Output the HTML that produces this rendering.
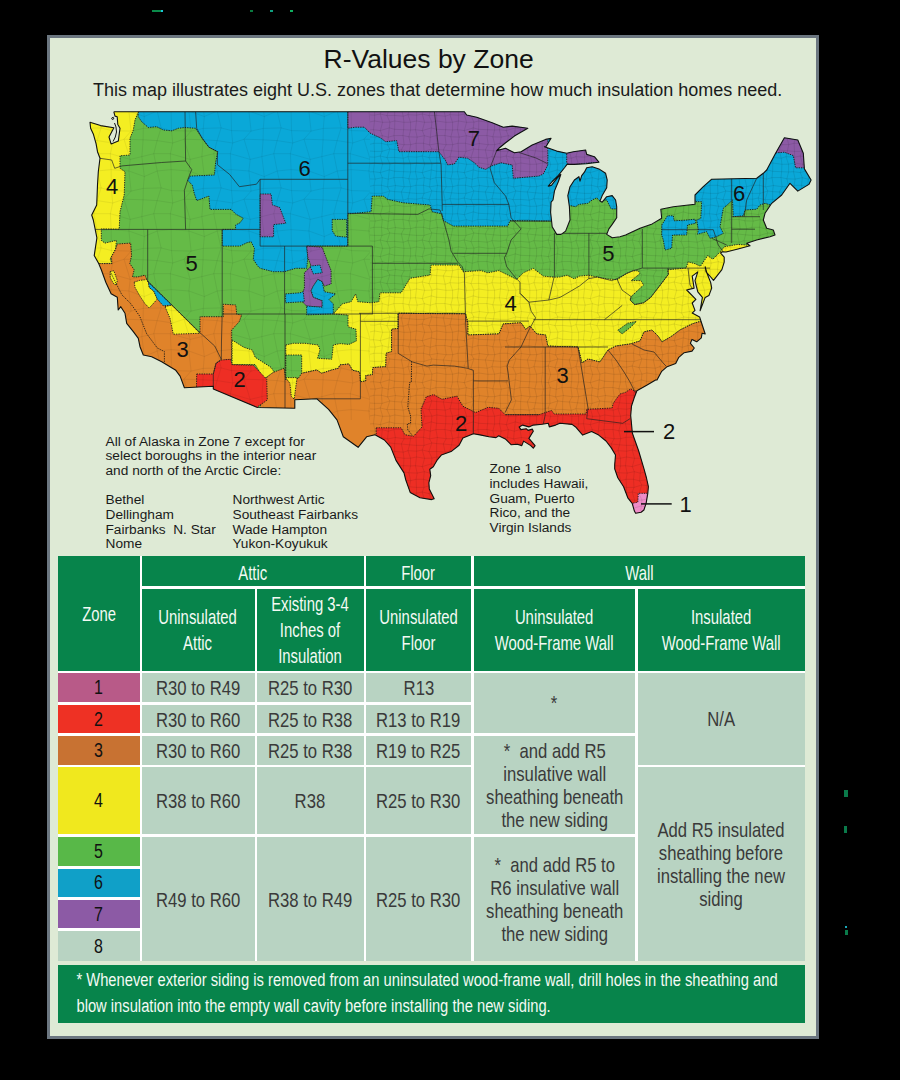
<!DOCTYPE html>
<html><head><meta charset="utf-8">
<style>
html,body{margin:0;padding:0;background:#000;width:900px;height:1080px;overflow:hidden;font-family:"Liberation Sans",sans-serif}
#panel{position:absolute;left:47px;top:35px;width:766px;height:998px;border:3.5px solid #6b7680;background:#deead5}
.a{position:absolute}
.t{position:absolute;white-space:nowrap;line-height:1}
.c{position:absolute;background:#b8d3c2;color:#3a3a3a;display:flex;align-items:center;justify-content:center;text-align:center}
.g{background:#07844b;color:#f4faf4}
.tx{display:inline-block;transform-origin:50% 50%;white-space:nowrap}
</style></head><body>
<div id="panel"></div><div id="specks"><div class="a" style="left:152px;top:10px;width:9px;height:2px;background:#0a8a4a"></div><div class="a" style="left:161px;top:10px;width:2px;height:2px;background:#19c8d8"></div><div class="a" style="left:250px;top:10px;width:3px;height:2px;background:#0a7a40"></div><div class="a" style="left:270px;top:10px;width:3px;height:2px;background:#10a080"></div><div class="a" style="left:290px;top:10px;width:3px;height:2px;background:#10b060"></div><div class="a" style="left:844px;top:790px;width:4px;height:7px;background:#0a7a4a"></div><div class="a" style="left:844px;top:826px;width:3px;height:7px;background:#0a7a4a"></div><div class="a" style="left:845px;top:926px;width:2px;height:2px;background:#19a8b8"></div><div class="a" style="left:845px;top:930px;width:3px;height:5px;background:#0a7a4a"></div></div>
<div class="t" style="left:323.5px;top:46px;font-size:26.5px;color:#111">R-Values by Zone</div>
<div class="t" style="left:93px;top:81.4px;font-size:18px;color:#1a1a1a">This map illustrates eight U.S. zones that determine how much insulation homes need.</div>
<svg class="a" style="left:0;top:0" width="900" height="1080" id="map"><defs><clipPath id="us"><polygon points="90.0,122.2 100.6,125.6 113.9,127.8 109.0,137.0 111.1,143.9 118.3,141.1 120.0,128.3 117.8,124.4 117.2,116.7 115.0,116.1 113.9,112.2 114.2,111.7 464.4,111.7 466.7,115.0 476.7,117.2 492.2,122.8 503.3,127.2 512.2,126.1 527.8,128.3 514.4,136.1 505.6,142.8 498.9,148.3 496.7,150.6 505.6,148.3 514.4,152.8 521.1,151.7 532.2,145.0 545.6,139.4 551.1,138.3 545.6,147.2 544.4,146.7 548.9,148.3 556.7,151.1 566.7,153.3 573.3,151.7 585.6,150.0 586.7,154.4 594.4,156.7 598.9,162.2 586.4,163.7 574.0,164.4 567.0,164.4 564.7,167.5 558.4,175.3 552.2,181.5 548.3,186.2 551.4,185.4 556.9,178.4 560.8,174.5 558.4,181.5 554.5,190.9 553.0,200.0 551.1,202.2 550.6,212.2 552.2,226.7 556.7,234.4 561.1,234.4 565.6,231.1 570.0,220.0 569.4,206.7 567.8,195.6 570.0,186.7 574.4,180.0 578.9,176.7 580.0,181.1 581.7,175.6 584.4,172.2 586.7,167.8 592.2,166.7 598.9,168.9 605.6,173.3 607.2,180.0 606.7,187.8 602.2,195.6 600.0,201.1 602.2,202.2 606.7,196.7 612.2,195.6 615.6,200.0 616.7,206.7 616.7,217.8 612.2,224.4 608.9,228.9 606.7,234.4 612.2,237.8 620.0,236.7 625.6,235.0 640.0,228.3 652.2,223.9 661.7,218.3 660.8,209.2 673.3,206.7 695.0,204.2 695.0,195.0 703.3,186.7 711.7,179.2 756.7,178.3 763.3,173.3 766.7,170.0 775.6,153.3 784.4,137.8 797.8,140.0 803.3,153.3 804.4,168.9 811.1,180.0 808.9,184.4 797.8,191.1 790.0,183.3 781.7,195.0 771.7,203.3 765.0,213.3 763.3,220.0 766.7,228.3 773.3,230.0 775.0,235.0 770.0,236.7 756.7,240.0 746.7,243.3 750.0,245.8 738.0,249.0 726.0,252.0 722.3,251.8 720.5,253.0 724.2,257.1 724.2,262.2 721.9,269.6 713.5,280.3 710.7,277.0 706.1,271.9 705.2,266.9 707.0,273.3 710.7,282.6 711.7,288.1 708.9,295.6 705.2,297.4 700.1,310.8 702.4,297.4 697.8,291.9 696.4,286.3 695.0,280.7 697.8,271.9 692.2,276.1 694.1,288.1 686.7,290.0 695.9,299.3 692.2,303.0 695.0,310.4 692.2,313.1 699.6,316.9 700.6,320.0 705.2,334.0 702.1,333.2 701.3,337.9 696.7,341.8 692.0,339.4 690.4,343.3 694.3,348.0 692.0,351.1 684.2,352.7 678.8,357.3 675.7,363.6 667.1,366.7 661.7,371.3 657.0,380.0 655.6,380.0 646.7,385.3 636.9,390.7 634.2,397.8 631.5,406.0 630.7,415.6 632.4,433.3 638.7,451.0 644.0,468.9 646.5,478.0 648.4,486.7 647.8,493.3 646.1,503.3 643.9,510.0 641.1,512.2 635.6,513.3 634.4,511.1 632.2,503.3 627.8,497.8 623.6,486.7 617.8,477.8 614.7,468.9 614.7,464.7 615.5,455.0 611.1,447.6 606.0,441.0 598.7,435.1 591.6,431.6 582.7,435.1 576.0,427.3 572.0,424.4 560.0,423.3 555.6,425.1 549.3,426.9 548.4,423.3 542.2,424.2 533.3,425.1 528.9,426.9 522.7,425.1 519.1,426.9 520.9,429.6 526.2,428.7 528.0,430.4 532.4,429.1 533.3,431.3 528.9,438.4 535.1,445.6 533.3,448.2 530.7,445.6 523.6,441.1 521.8,445.6 517.3,444.2 511.1,444.7 505.8,439.3 498.7,435.8 496.0,437.6 488.9,436.7 480.0,434.9 473.4,433.7 462.9,437.9 459.1,445.3 451.1,451.6 441.3,455.1 436.9,460.4 433.3,466.7 429.8,469.3 430.7,475.6 428.9,482.7 429.3,488.9 434.2,498.7 431.6,499.6 420.0,497.8 410.2,492.4 405.8,480.0 404.0,472.9 396.0,460.4 390.7,447.1 384.4,440.0 375.0,434.7 366.6,436.8 358.1,447.3 343.3,436.8 337.0,419.9 328.6,409.3 316.9,398.8 294.8,399.8 294.8,408.3 257.5,407.5 213.3,389.1 213.3,386.2 184.4,387.7 180.1,376.1 175.8,370.3 170.0,366.7 161.7,361.7 151.7,356.7 143.3,355.0 140.0,346.7 138.3,338.3 133.3,331.7 126.7,323.3 125.0,313.3 120.8,306.7 118.2,310.0 117.3,297.3 111.1,293.8 105.8,282.2 101.3,269.8 98.7,263.6 94.2,255.6 96.9,237.8 95.1,228.9 93.3,220.0 91.7,215.0 96.7,205.0 97.5,185.0 98.3,171.7 100.0,158.3 97.5,151.7 96.1,143.9 93.3,133.9 90.6,128.3"/></clipPath>
<pattern id="ctyE" width="42" height="42" patternUnits="userSpaceOnUse"><path d="M-3.5 -5.0 L-4.5 3.7 L-2.9 11.1 L-3.9 17.3 L-3.5 25.4 L-3.4 31.2 L-3.5 37.0 L-4.5 45.7 L-2.9 53.1 M4.6 -3.7 L2.3 4.6 L4.3 9.7 L3.5 17.3 L4.0 25.4 L2.2 30.0 L4.6 38.3 L2.3 46.6 L4.3 51.7 M11.9 -3.9 L11.3 1.9 L10.3 11.2 L9.6 18.9 L11.8 23.0 L9.0 31.6 L11.9 38.1 L11.3 43.9 L10.3 53.2 M16.8 -5.0 L16.6 3.3 L16.0 9.6 L17.3 17.5 L16.6 23.6 L16.6 31.4 L16.8 37.0 L16.6 45.3 L16.0 51.6 M25.9 -3.7 L25.6 3.7 L25.0 9.5 L26.1 18.7 L23.3 24.0 L25.2 32.2 L25.9 38.3 L25.6 45.7 L25.0 51.5 M32.5 -3.8 L32.6 4.0 L30.9 10.8 L32.7 18.6 L31.5 24.8 L30.0 30.7 L32.5 38.2 L32.6 46.0 L30.9 52.8 M38.5 -5.0 L37.5 3.7 L39.1 11.1 L38.1 17.3 L38.5 25.4 L38.6 31.2 L38.5 37.0 L37.5 45.7 L39.1 53.1 M46.6 -3.7 L44.3 4.6 L46.3 9.7 L45.5 17.3 L46.0 25.4 L44.2 30.0 L46.6 38.3 L44.3 46.6 L46.3 51.7 M-3.5 -5.0 L4.6 -3.7 L11.9 -3.9 L16.8 -5.0 L25.9 -3.7 L32.5 -3.8 L38.5 -5.0 L46.6 -3.7 L53.9 -3.9 M-4.5 3.7 L2.3 4.6 L11.3 1.9 L16.6 3.3 L25.6 3.7 L32.6 4.0 L37.5 3.7 L44.3 4.6 L53.3 1.9 M-2.9 11.1 L4.3 9.7 L10.3 11.2 L16.0 9.6 L25.0 9.5 L30.9 10.8 L39.1 11.1 L46.3 9.7 L52.3 11.2 M-3.9 17.3 L3.5 17.3 L9.6 18.9 L17.3 17.5 L26.1 18.7 L32.7 18.6 L38.1 17.3 L45.5 17.3 L51.6 18.9 M-3.5 25.4 L4.0 25.4 L11.8 23.0 L16.6 23.6 L23.3 24.0 L31.5 24.8 L38.5 25.4 L46.0 25.4 L53.8 23.0 M-3.4 31.2 L2.2 30.0 L9.0 31.6 L16.6 31.4 L25.2 32.2 L30.0 30.7 L38.6 31.2 L44.2 30.0 L51.0 31.6 M-3.5 37.0 L4.6 38.3 L11.9 38.1 L16.8 37.0 L25.9 38.3 L32.5 38.2 L38.5 37.0 L46.6 38.3 L53.9 38.1 M-4.5 45.7 L2.3 46.6 L11.3 43.9 L16.6 45.3 L25.6 45.7 L32.6 46.0 L37.5 45.7 L44.3 46.6 L53.3 43.9" fill="none" stroke="#000" stroke-opacity="0.16" stroke-width="0.55"/></pattern>
<pattern id="ctyW" width="60" height="60" patternUnits="userSpaceOnUse"><path d="M-8.9 -10.4 L-8.5 10.6 L-7.3 23.0 L-9.6 33.7 L-8.9 49.6 L-8.5 70.6 L-7.3 83.0 M8.9 -9.0 L11.1 11.1 L4.0 19.2 L10.2 39.4 L8.9 51.0 L11.1 71.1 L4.0 79.2 M24.3 -3.5 L23.3 8.4 L23.1 19.8 L21.9 36.6 L24.3 56.5 L23.3 68.4 L23.1 79.8 M37.2 -9.0 L41.1 7.9 L37.1 20.6 L33.8 33.7 L37.2 51.0 L41.1 67.9 L37.1 80.6 M51.1 -10.4 L51.5 10.6 L52.7 23.0 L50.4 33.7 L51.1 49.6 L51.5 70.6 L52.7 83.0 M68.9 -9.0 L71.1 11.1 L64.0 19.2 L70.2 39.4 L68.9 51.0 L71.1 71.1 L64.0 79.2 M-8.9 -10.4 L8.9 -9.0 L24.3 -3.5 L37.2 -9.0 L51.1 -10.4 L68.9 -9.0 L84.3 -3.5 M-8.5 10.6 L11.1 11.1 L23.3 8.4 L41.1 7.9 L51.5 10.6 L71.1 11.1 L83.3 8.4 M-7.3 23.0 L4.0 19.2 L23.1 19.8 L37.1 20.6 L52.7 23.0 L64.0 19.2 L83.1 19.8 M-9.6 33.7 L10.2 39.4 L21.9 36.6 L33.8 33.7 L50.4 33.7 L70.2 39.4 L81.9 36.6 M-8.9 49.6 L8.9 51.0 L24.3 56.5 L37.2 51.0 L51.1 49.6 L68.9 51.0 L84.3 56.5 M-8.5 70.6 L11.1 71.1 L23.3 68.4 L41.1 67.9 L51.5 70.6 L71.1 71.1 L83.3 68.4" fill="none" stroke="#000" stroke-opacity="0.12" stroke-width="0.55"/></pattern>
</defs>
<g clip-path="url(#us)">
<polygon points="90.0,122.2 100.6,125.6 113.9,127.8 109.0,137.0 111.1,143.9 118.3,141.1 120.0,128.3 117.8,124.4 117.2,116.7 115.0,116.1 113.9,112.2 114.2,111.7 464.4,111.7 466.7,115.0 476.7,117.2 492.2,122.8 503.3,127.2 512.2,126.1 527.8,128.3 514.4,136.1 505.6,142.8 498.9,148.3 496.7,150.6 505.6,148.3 514.4,152.8 521.1,151.7 532.2,145.0 545.6,139.4 551.1,138.3 545.6,147.2 544.4,146.7 548.9,148.3 556.7,151.1 566.7,153.3 573.3,151.7 585.6,150.0 586.7,154.4 594.4,156.7 598.9,162.2 586.4,163.7 574.0,164.4 567.0,164.4 564.7,167.5 558.4,175.3 552.2,181.5 548.3,186.2 551.4,185.4 556.9,178.4 560.8,174.5 558.4,181.5 554.5,190.9 553.0,200.0 551.1,202.2 550.6,212.2 552.2,226.7 556.7,234.4 561.1,234.4 565.6,231.1 570.0,220.0 569.4,206.7 567.8,195.6 570.0,186.7 574.4,180.0 578.9,176.7 580.0,181.1 581.7,175.6 584.4,172.2 586.7,167.8 592.2,166.7 598.9,168.9 605.6,173.3 607.2,180.0 606.7,187.8 602.2,195.6 600.0,201.1 602.2,202.2 606.7,196.7 612.2,195.6 615.6,200.0 616.7,206.7 616.7,217.8 612.2,224.4 608.9,228.9 606.7,234.4 612.2,237.8 620.0,236.7 625.6,235.0 640.0,228.3 652.2,223.9 661.7,218.3 660.8,209.2 673.3,206.7 695.0,204.2 695.0,195.0 703.3,186.7 711.7,179.2 756.7,178.3 763.3,173.3 766.7,170.0 775.6,153.3 784.4,137.8 797.8,140.0 803.3,153.3 804.4,168.9 811.1,180.0 808.9,184.4 797.8,191.1 790.0,183.3 781.7,195.0 771.7,203.3 765.0,213.3 763.3,220.0 766.7,228.3 773.3,230.0 775.0,235.0 770.0,236.7 756.7,240.0 746.7,243.3 750.0,245.8 738.0,249.0 726.0,252.0 722.3,251.8 720.5,253.0 724.2,257.1 724.2,262.2 721.9,269.6 713.5,280.3 710.7,277.0 706.1,271.9 705.2,266.9 707.0,273.3 710.7,282.6 711.7,288.1 708.9,295.6 705.2,297.4 700.1,310.8 702.4,297.4 697.8,291.9 696.4,286.3 695.0,280.7 697.8,271.9 692.2,276.1 694.1,288.1 686.7,290.0 695.9,299.3 692.2,303.0 695.0,310.4 692.2,313.1 699.6,316.9 700.6,320.0 705.2,334.0 702.1,333.2 701.3,337.9 696.7,341.8 692.0,339.4 690.4,343.3 694.3,348.0 692.0,351.1 684.2,352.7 678.8,357.3 675.7,363.6 667.1,366.7 661.7,371.3 657.0,380.0 655.6,380.0 646.7,385.3 636.9,390.7 634.2,397.8 631.5,406.0 630.7,415.6 632.4,433.3 638.7,451.0 644.0,468.9 646.5,478.0 648.4,486.7 647.8,493.3 646.1,503.3 643.9,510.0 641.1,512.2 635.6,513.3 634.4,511.1 632.2,503.3 627.8,497.8 623.6,486.7 617.8,477.8 614.7,468.9 614.7,464.7 615.5,455.0 611.1,447.6 606.0,441.0 598.7,435.1 591.6,431.6 582.7,435.1 576.0,427.3 572.0,424.4 560.0,423.3 555.6,425.1 549.3,426.9 548.4,423.3 542.2,424.2 533.3,425.1 528.9,426.9 522.7,425.1 519.1,426.9 520.9,429.6 526.2,428.7 528.0,430.4 532.4,429.1 533.3,431.3 528.9,438.4 535.1,445.6 533.3,448.2 530.7,445.6 523.6,441.1 521.8,445.6 517.3,444.2 511.1,444.7 505.8,439.3 498.7,435.8 496.0,437.6 488.9,436.7 480.0,434.9 473.4,433.7 462.9,437.9 459.1,445.3 451.1,451.6 441.3,455.1 436.9,460.4 433.3,466.7 429.8,469.3 430.7,475.6 428.9,482.7 429.3,488.9 434.2,498.7 431.6,499.6 420.0,497.8 410.2,492.4 405.8,480.0 404.0,472.9 396.0,460.4 390.7,447.1 384.4,440.0 375.0,434.7 366.6,436.8 358.1,447.3 343.3,436.8 337.0,419.9 328.6,409.3 316.9,398.8 294.8,399.8 294.8,408.3 257.5,407.5 213.3,389.1 213.3,386.2 184.4,387.7 180.1,376.1 175.8,370.3 170.0,366.7 161.7,361.7 151.7,356.7 143.3,355.0 140.0,346.7 138.3,338.3 133.3,331.7 126.7,323.3 125.0,313.3 120.8,306.7 118.2,310.0 117.3,297.3 111.1,293.8 105.8,282.2 101.3,269.8 98.7,263.6 94.2,255.6 96.9,237.8 95.1,228.9 93.3,220.0 91.7,215.0 96.7,205.0 97.5,185.0 98.3,171.7 100.0,158.3 97.5,151.7 96.1,143.9 93.3,133.9 90.6,128.3" fill="#65bb47"/>
<polygon points="136.0,100.0 138.3,112.0 138.3,116.7 141.7,121.7 148.3,127.5 156.7,126.7 163.3,130.0 171.7,130.8 178.3,128.3 185.0,127.5 195.6,128.3 202.2,138.3 208.9,147.2 217.8,151.7 215.6,162.8 214.4,175.0 190.0,176.1 187.8,180.6 192.2,185.0 194.4,193.9 196.7,200.6 208.9,196.1 210.0,209.4 231.1,209.4 235.6,213.9 243.3,218.3 240.0,222.8 235.6,225.0 235.6,229.4 222.2,229.4 222.2,246.1 240.0,246.1 246.7,242.8 251.1,241.7 254.4,248.3 253.3,259.4 257.8,266.1 260.0,268.3 273.3,271.7 284.4,271.7 295.6,268.3 306.7,268.3 307.8,257.2 306.7,246.1 347.8,246.1 347.8,213.9 371.1,211.7 372.2,196.1 383.3,196.1 387.8,199.4 403.3,202.8 430.0,205.0 432.2,211.7 442.2,213.9 443.3,220.6 453.3,226.1 507.8,226.1 510.0,220.6 550.0,221.1 560.0,221.1 570.0,205.6 575.6,206.7 578.9,204.4 587.8,203.3 592.2,200.0 596.7,197.8 600.0,201.1 606.7,200.0 611.1,208.9 616.7,208.9 630.0,209.0 630.0,100.0" fill="#0aa8d8" stroke="#1a1a1a" stroke-width="0.9" stroke-dasharray="1.3 1.1"/>
<polygon points="690.0,195.0 694.9,193.6 700.0,170.0 780.0,130.0 820.0,150.0 820.0,185.0 797.8,191.1 775.6,206.7 765.0,203.3 760.0,205.0 756.7,209.2 745.0,210.0 743.3,215.8 733.3,216.7 732.5,200.0 730.0,202.5 723.3,208.3 720.0,226.7 723.3,233.3 716.7,236.7 710.0,238.3 706.7,231.7 697.5,234.2 698.3,230.0 696.7,220.0 700.8,218.3 701.7,201.7 695.8,201.7" fill="#0aa8d8" stroke="#1a1a1a" stroke-width="0.9" stroke-dasharray="1.3 1.1"/>
<polygon points="661.7,225.0 667.5,215.8 673.3,215.8 674.2,220.8 687.5,220.0 695.0,219.2 695.8,223.3 687.5,225.0 686.7,235.0 672.5,235.0 671.7,248.3 665.0,250.0 663.3,240.0 661.7,235.0" fill="#0aa8d8" stroke="#1a1a1a" stroke-width="0.9" stroke-dasharray="1.3 1.1"/>
<polygon points="347.8,100.0 347.8,128.3 355.6,127.2 364.4,127.2 370.0,133.0 381.1,138.3 385.6,141.7 396.7,140.6 398.9,151.7 438.9,151.7 445.6,160.6 447.8,165.0 454.4,163.9 458.9,157.2 467.8,158.3 474.4,162.8 478.9,167.2 485.6,169.4 491.1,166.1 494.4,165.0 501.1,162.8 512.2,165.0 513.3,178.3 525.6,177.2 538.9,176.1 543.3,173.9 547.8,165.0 547.8,150.6 548.0,100.0" fill="#8c5aa5" stroke="#1a1a1a" stroke-width="0.9" stroke-dasharray="1.3 1.1"/>
<polygon points="566.0,140.0 600.0,140.0 605.0,162.0 590.0,162.8 581.1,163.9 570.0,165.0 566.7,162.8 566.7,153.9" fill="#8c5aa5" stroke="#1a1a1a" stroke-width="0.9" stroke-dasharray="1.3 1.1"/>
<polygon points="770.0,153.3 780.0,130.0 810.0,130.0 810.0,167.8 802.2,167.8 795.6,167.8 793.3,155.6 784.4,152.2" fill="#8c5aa5" stroke="#1a1a1a" stroke-width="0.9" stroke-dasharray="1.3 1.1"/>
<polygon points="260.1,194.0 271.1,194.0 272.4,205.0 279.7,207.5 285.8,223.3 273.6,224.6 273.6,236.8 260.1,236.8" fill="#8c5aa5" stroke="#1a1a1a" stroke-width="0.9" stroke-dasharray="1.3 1.1"/>
<polygon points="306.7,246.1 322.2,247.2 326.7,259.4 331.1,270.6 331.1,283.9 324.4,286.1 322.2,281.7 317.8,279.4 313.3,286.1 311.1,290.6 313.3,297.2 322.2,300.6 322.2,307.2 306.7,306.1 300.0,299.4 304.4,288.3 304.4,272.8 311.1,266.1 307.8,257.2" fill="#8c5aa5" stroke="#1a1a1a" stroke-width="0.9" stroke-dasharray="1.3 1.1"/>
<polygon points="285.6,293.9 300.0,292.8 303.3,291.7 304.4,301.7 285.6,302.8" fill="#0aa8d8" stroke="#1a1a1a" stroke-width="0.9" stroke-dasharray="1.3 1.1"/>
<polygon points="306.7,306.1 322.2,307.2 322.2,300.6 313.3,297.2 311.1,290.6 313.3,286.1 317.8,279.4 322.2,281.7 324.4,291.7 335.6,293.9 328.9,299.4 333.3,303.9 333.3,313.9 306.7,314.9" fill="#0aa8d8" stroke="#1a1a1a" stroke-width="0.9" stroke-dasharray="1.3 1.1"/>
<polygon points="310.0,266.1 320.0,265.0 322.2,272.8 313.3,273.9" fill="#0aa8d8" stroke="#1a1a1a" stroke-width="0.9" stroke-dasharray="1.3 1.1"/>
<polygon points="332.2,219.4 346.7,219.4 346.7,237.2 335.6,236.1 332.2,230.6" fill="#65bb47" stroke="#1a1a1a" stroke-width="0.9" stroke-dasharray="1.3 1.1"/>
<polygon points="80.0,100.0 138.3,100.0 138.3,112.0 135.0,120.0 133.3,130.0 130.0,138.3 130.0,155.0 120.0,155.8 120.0,168.3 125.0,171.7 124.2,195.0 121.7,205.0 120.0,211.7 119.2,229.2 101.3,228.9 101.3,240.4 104.9,243.1 116.4,240.4 115.6,249.3 111.1,257.3 110.2,259.1 112.0,263.6 98.7,263.6 80.0,264.0" fill="#f4ee22" stroke="#1a1a1a" stroke-width="0.9" stroke-dasharray="1.3 1.1"/>
<polygon points="285.8,345.0 293.3,343.3 305.0,343.3 318.3,345.0 320.0,350.0 317.5,358.3 331.7,359.2 333.3,345.0 340.0,343.6 348.9,344.4 356.4,340.9 356.0,329.3 348.0,326.7 348.0,315.1 333.3,313.9 342.2,303.9 351.1,301.7 355.6,293.9 357.8,301.7 371.1,302.8 378.9,301.7 380.0,292.8 401.1,292.8 410.0,278.3 430.0,275.0 431.1,265.0 458.9,265.0 463.3,271.7 481.1,270.6 487.8,272.8 498.9,270.6 507.8,275.0 516.7,279.4 523.3,272.8 533.3,268.3 543.3,276.1 554.4,277.2 560.0,277.0 567.1,275.2 574.2,278.8 579.6,276.1 588.4,275.2 597.3,277.0 606.2,278.8 616.9,279.7 626.7,273.4 632.9,270.8 638.2,270.8 640.0,273.4 634.7,277.9 631.1,280.6 640.9,280.6 643.6,285.0 631.1,296.6 630.2,300.1 634.7,304.6 643.6,302.8 650.7,297.4 659.6,285.9 668.4,274.3 667.6,269.9 675.6,269.0 686.2,268.1 688.0,261.9 695.1,263.7 700.4,266.3 707.6,255.7 712.9,259.2 720.0,252.1 724.4,246.7 737.8,244.4 760.0,246.0 760.0,320.0 720.0,320.0 698.0,322.0 692.0,324.0 680.0,330.0 672.0,336.0 662.0,342.0 658.0,336.0 652.0,330.0 644.0,332.0 640.0,341.0 630.0,344.0 616.0,346.0 608.0,350.0 600.0,362.0 588.0,359.0 582.0,363.0 578.0,347.0 547.8,346.1 545.6,335.0 536.7,333.9 530.0,326.1 525.6,329.4 521.1,322.8 503.3,323.9 498.9,333.9 467.8,335.0 467.8,322.8 465.6,313.9 398.2,313.3 398.2,328.4 391.6,329.3 391.6,351.6 386.2,353.3 385.8,366.7 372.9,367.6 372.4,374.7 365.8,375.6 365.8,380.9 360.4,381.8 359.6,372.0 352.4,370.2 348.9,364.0 340.0,364.9 338.3,368.3 331.7,370.0 321.7,373.3 316.7,370.0 301.7,373.3 298.3,378.3 285.8,380.0" fill="#f4ee22" stroke="#1a1a1a" stroke-width="0.9" stroke-dasharray="1.3 1.1"/>
<polygon points="285.8,355.0 301.7,355.0 301.7,378.3 285.8,378.3" fill="#65bb47" stroke="#1a1a1a" stroke-width="0.9" stroke-dasharray="1.3 1.1"/>
<polygon points="617.8,330.3 627.6,323.2 636.4,321.4 631.1,326.8 622.2,333.9" fill="#65bb47" stroke="#1a1a1a" stroke-width="0.9" stroke-dasharray="1.3 1.1"/>
<polygon points="80.0,264.0 98.7,263.6 112.0,263.6 111.1,257.3 115.6,249.3 117.3,244.0 130.7,243.1 131.6,255.6 129.8,263.6 134.2,269.8 132.4,276.9 137.8,276.9 144.9,275.1 147.6,281.3 200.0,333.3 200.0,316.7 223.3,316.7 223.3,304.2 235.8,305.0 236.7,314.2 241.7,315.0 239.2,321.7 231.7,330.0 231.7,360.0 225.0,360.0 220.0,420.0 80.0,420.0" fill="#e0832a" stroke="#1a1a1a" stroke-width="0.9" stroke-dasharray="1.3 1.1"/>
<polygon points="258.0,420.0 265.3,379.0 271.1,373.2 284.1,368.2 285.8,380.0 298.3,378.3 301.7,373.3 316.7,370.0 321.7,373.3 331.7,370.0 338.3,368.3 340.0,364.9 348.9,364.0 352.4,370.2 359.6,372.0 360.4,381.8 365.8,380.9 365.8,375.6 372.4,374.7 372.9,367.6 385.8,366.7 386.2,353.3 391.6,351.6 391.6,329.3 398.2,328.4 398.2,313.3 465.6,313.9 467.8,322.8 467.8,335.0 498.9,333.9 503.3,323.9 521.1,322.8 525.6,329.4 530.0,326.1 536.7,333.9 545.6,335.0 547.8,346.1 578.0,347.0 582.0,363.0 588.0,359.0 600.0,362.0 608.0,350.0 616.0,346.0 630.0,344.0 640.0,341.0 644.0,332.0 652.0,330.0 658.0,336.0 662.0,342.0 672.0,336.0 680.0,330.0 692.0,324.0 698.0,322.0 720.0,320.0 720.0,520.0 258.0,520.0" fill="#e0832a" stroke="#1a1a1a" stroke-width="0.9" stroke-dasharray="1.3 1.1"/>
<polygon points="134.2,282.2 139.6,280.4 146.7,279.6 148.4,282.2 149.3,287.6 153.8,291.1 157.3,299.1 149.3,308.0 144.9,303.6 139.6,295.6 135.1,287.6" fill="#f4ee22" stroke="#1a1a1a" stroke-width="0.9" stroke-dasharray="1.3 1.1"/>
<polygon points="110.2,271.6 113.8,270.7 117.3,280.4 116.4,284.9 113.8,284.0 110.2,277.8" fill="#f4ee22" stroke="#1a1a1a" stroke-width="0.9" stroke-dasharray="1.3 1.1"/>
<polygon points="165.0,306.7 171.7,305.0 200.0,333.3 173.3,334.2 170.0,318.3" fill="#f4ee22" stroke="#1a1a1a" stroke-width="0.9" stroke-dasharray="1.3 1.1"/>
<polygon points="232.1,340.0 243.7,347.2 252.3,350.1 255.2,357.3 271.1,367.4 274.0,371.8 263.9,379.0 255.2,364.6 232.1,364.6" fill="#f4ee22" stroke="#1a1a1a" stroke-width="0.9" stroke-dasharray="1.3 1.1"/>
<polygon points="285.6,377.6 297.1,377.6 295.7,387.7 294.2,399.2 291.3,396.3 289.9,383.3" fill="#f4ee22" stroke="#1a1a1a" stroke-width="0.9" stroke-dasharray="1.3 1.1"/>
<polygon points="148.4,282.2 147.6,281.3 171.7,305.0 163.3,305.8 157.3,299.1 153.8,291.1 149.3,287.6" fill="#0aa8d8" stroke="#1a1a1a" stroke-width="0.9" stroke-dasharray="1.3 1.1"/>
<polygon points="196.7,374.0 213.3,374.0 216.0,363.3 221.3,360.0 230.7,359.3 232.0,364.7 253.3,365.3 266.7,379.3 267.3,400.0 258.1,406.4 258.1,420.0 196.0,420.0" fill="#ee2e24" stroke="#1a1a1a" stroke-width="0.9" stroke-dasharray="1.3 1.1"/>
<polygon points="376.2,427.8 401.0,427.8 405.0,434.7 413.5,436.3 422.0,427.0 421.0,409.0 426.3,396.7 433.7,394.6 442.0,399.3 457.0,396.2 462.9,406.2 475.6,412.6 488.2,407.3 498.8,408.3 505.1,414.7 538.9,414.7 545.2,412.6 551.6,410.4 554.0,414.0 586.0,414.0 586.7,409.3 598.7,408.7 612.0,408.0 613.3,403.3 616.0,399.3 620.0,394.0 625.3,392.4 630.7,388.9 634.2,390.7 640.0,392.0 660.0,395.0 660.0,530.0 376.0,530.0" fill="#ee2e24" stroke="#1a1a1a" stroke-width="0.9" stroke-dasharray="1.3 1.1"/>
<polygon points="650.0,493.3 638.3,493.3 637.8,502.2 632.2,503.3 630.0,520.0 650.0,520.0" fill="#ef8cc8" stroke="#1a1a1a" stroke-width="0.9" stroke-dasharray="1.3 1.1"/>
<rect x="80" y="100" width="290" height="320" fill="url(#ctyW)"/>
<rect x="370" y="100" width="450" height="420" fill="url(#ctyE)"/>
<polyline points="411.5,361.3 411.5,381.7 409.6,382.6 407.8,406.7 410.6,415.9 410.6,423.3 407.3,423.8 407.8,429.8 412.4,435.4" fill="none" stroke="#1a1a1a" stroke-width="0.9" stroke-dasharray="1.3 1.1"/>
<polyline points="111.1,273.3 116.4,284.0 121.8,294.7 130.7,303.6 139.6,316.0 146.7,333.8 157.3,348.0 164.4,351.6 164.4,362.2" fill="none" stroke="#1a1a1a" stroke-width="0.9" stroke-dasharray="1.3 1.1"/>
<polyline points="100.0,158.3 111.7,160.0 114.7,168.3 122.0,165.9 161.7,162.5 185.6,161.0" fill="none" stroke="#222" stroke-width="0.8" stroke-opacity="0.85"/>
<polyline points="185.0,111.7 185.6,161.0 191.7,169.6 188.3,178.3 184.4,190.3 185.6,229.5" fill="none" stroke="#222" stroke-width="0.8" stroke-opacity="0.85"/>
<polyline points="95.0,229.4 260.0,229.4" fill="none" stroke="#222" stroke-width="0.8" stroke-opacity="0.85"/>
<polyline points="147.7,229.4 147.7,281.3 200.0,332.7 214.7,346.0 221.3,359.3 216.0,363.3 213.3,374.0 213.3,387.0" fill="none" stroke="#222" stroke-width="0.8" stroke-opacity="0.85"/>
<polyline points="222.2,229.4 222.2,314.0 221.5,340.0 221.3,359.3" fill="none" stroke="#222" stroke-width="0.8" stroke-opacity="0.85"/>
<polyline points="222.2,314.0 372.9,314.0" fill="none" stroke="#222" stroke-width="0.8" stroke-opacity="0.85"/>
<polyline points="285.0,314.0 285.0,408.0" fill="none" stroke="#222" stroke-width="0.8" stroke-opacity="0.85"/>
<polyline points="360.4,313.3 360.4,398.8 316.9,398.8" fill="none" stroke="#222" stroke-width="0.8" stroke-opacity="0.85"/>
<polyline points="195.6,111.7 196.7,128.3 202.2,138.3 208.9,147.2 217.4,151.7 217.4,164.7 229.6,174.4 239.4,186.7 256.5,184.2 260.1,179.3" fill="none" stroke="#222" stroke-width="0.8" stroke-opacity="0.85"/>
<polyline points="260.1,179.3 260.1,246.1 347.8,246.1" fill="none" stroke="#222" stroke-width="0.8" stroke-opacity="0.85"/>
<polyline points="260.1,179.3 347.8,179.3" fill="none" stroke="#222" stroke-width="0.8" stroke-opacity="0.85"/>
<polyline points="347.8,111.7 347.8,246.1 372.4,246.1 372.4,314.0" fill="none" stroke="#222" stroke-width="0.8" stroke-opacity="0.85"/>
<polyline points="284.6,246.1 284.6,314.0" fill="none" stroke="#222" stroke-width="0.8" stroke-opacity="0.85"/>
<polyline points="347.8,163.2 440.5,163.2" fill="none" stroke="#222" stroke-width="0.8" stroke-opacity="0.85"/>
<polyline points="347.8,213.3 417.8,214.4 428.9,208.9 440.0,210.0 443.3,220.0 448.9,240.0 451.1,251.1 457.8,262.2 462.2,266.7 464.4,273.3 465.6,322.2 468.2,368.2" fill="none" stroke="#222" stroke-width="0.8" stroke-opacity="0.85"/>
<polyline points="372.4,263.3 457.8,263.3" fill="none" stroke="#222" stroke-width="0.8" stroke-opacity="0.85"/>
<polyline points="359.0,313.3 465.6,313.3" fill="none" stroke="#222" stroke-width="0.8" stroke-opacity="0.85"/>
<polyline points="360.4,321.3 398.2,321.3" fill="none" stroke="#222" stroke-width="0.8" stroke-opacity="0.85"/>
<polyline points="398.2,313.3 398.2,353.3 412.2,361.9 427.0,366.1 433.3,365.1 454.4,366.1 467.1,368.2 473.4,370.3" fill="none" stroke="#222" stroke-width="0.8" stroke-opacity="0.85"/>
<polyline points="434.4,111.7 436.7,131.7 438.9,151.7 441.1,165.0 442.2,204.4 442.2,211.0" fill="none" stroke="#222" stroke-width="0.8" stroke-opacity="0.85"/>
<polyline points="442.2,204.4 508.9,204.4" fill="none" stroke="#222" stroke-width="0.8" stroke-opacity="0.85"/>
<polyline points="453.3,253.3 506.7,253.3" fill="none" stroke="#222" stroke-width="0.8" stroke-opacity="0.85"/>
<polyline points="496.7,150.6 490.0,168.0 494.4,182.8 505.6,196.1 508.9,204.4 511.1,217.8 521.1,228.9 511.1,240.0 506.7,253.3 504.4,257.8 506.7,266.7 515.6,277.8 520.0,282.2 520.0,293.3 528.9,302.2 531.1,311.1 535.6,317.8 528.9,330.0 521.0,347.0 509.3,360.0 507.2,366.1 511.4,399.9 505.1,412.6" fill="none" stroke="#222" stroke-width="0.8" stroke-opacity="0.85"/>
<polyline points="519.0,152.5 536.0,158.0 547.5,163.6" fill="none" stroke="#222" stroke-width="0.8" stroke-opacity="0.85"/>
<polyline points="510.0,221.1 553.0,221.1" fill="none" stroke="#222" stroke-width="0.8" stroke-opacity="0.85"/>
<polyline points="554.4,232.8 554.4,275.6 548.9,300.0" fill="none" stroke="#222" stroke-width="0.8" stroke-opacity="0.85"/>
<polyline points="556.0,233.3 614.4,233.3" fill="none" stroke="#222" stroke-width="0.8" stroke-opacity="0.85"/>
<polyline points="588.9,233.3 588.9,278.8" fill="none" stroke="#222" stroke-width="0.8" stroke-opacity="0.85"/>
<polyline points="520.0,293.3 528.9,302.2 548.9,300.0 560.0,297.4 570.7,291.2 579.6,285.9 588.4,278.8 597.3,277.0 611.6,280.6 616.9,278.8 626.7,273.4 632.9,270.8 642.0,268.1" fill="none" stroke="#222" stroke-width="0.8" stroke-opacity="0.85"/>
<polyline points="642.3,229.0 642.3,268.1 710.0,268.1" fill="none" stroke="#222" stroke-width="0.8" stroke-opacity="0.85"/>
<polyline points="661.7,229.7 713.3,229.7 718.3,245.0 723.3,252.0" fill="none" stroke="#222" stroke-width="0.8" stroke-opacity="0.85"/>
<polyline points="711.7,238.3 726.7,245.0" fill="none" stroke="#222" stroke-width="0.8" stroke-opacity="0.85"/>
<polyline points="731.7,178.3 731.7,243.0" fill="none" stroke="#222" stroke-width="0.8" stroke-opacity="0.85"/>
<polyline points="756.7,178.3 746.7,200.0 744.2,216.7" fill="none" stroke="#222" stroke-width="0.8" stroke-opacity="0.85"/>
<polyline points="763.3,173.3 763.3,210.0" fill="none" stroke="#222" stroke-width="0.8" stroke-opacity="0.85"/>
<polyline points="731.7,216.7 760.0,216.7" fill="none" stroke="#222" stroke-width="0.8" stroke-opacity="0.85"/>
<polyline points="731.7,229.2 755.0,229.2" fill="none" stroke="#222" stroke-width="0.8" stroke-opacity="0.85"/>
<polyline points="622.2,305.4 613.3,312.6 604.4,319.7 533.3,319.7" fill="none" stroke="#222" stroke-width="0.8" stroke-opacity="0.85"/>
<polyline points="604.4,319.7 700.0,319.7" fill="none" stroke="#222" stroke-width="0.8" stroke-opacity="0.85"/>
<polyline points="465.6,321.1 528.9,321.1" fill="none" stroke="#222" stroke-width="0.8" stroke-opacity="0.85"/>
<polyline points="505.0,347.0 608.0,347.0" fill="none" stroke="#222" stroke-width="0.8" stroke-opacity="0.85"/>
<polyline points="473.4,370.3 473.4,435.0" fill="none" stroke="#222" stroke-width="0.8" stroke-opacity="0.85"/>
<polyline points="473.4,380.9 508.0,380.9" fill="none" stroke="#222" stroke-width="0.8" stroke-opacity="0.85"/>
<polyline points="505.1,414.7 538.9,414.7" fill="none" stroke="#222" stroke-width="0.8" stroke-opacity="0.85"/>
<polyline points="545.2,347.0 545.2,415.0 543.3,424.0" fill="none" stroke="#222" stroke-width="0.8" stroke-opacity="0.85"/>
<polyline points="578.0,347.0 588.0,408.0 586.7,418.7 622.7,423.3 630.0,418.7" fill="none" stroke="#222" stroke-width="0.8" stroke-opacity="0.85"/>
<polyline points="608.0,350.0 616.0,360.0 624.0,372.0 630.0,382.0 636.0,394.0" fill="none" stroke="#222" stroke-width="0.8" stroke-opacity="0.85"/>
<polyline points="632.0,344.0 644.0,350.0 654.0,352.0 664.0,364.0 666.0,366.0" fill="none" stroke="#222" stroke-width="0.8" stroke-opacity="0.85"/>
<polyline points="616.9,278.8 622.0,290.0 631.1,296.6 630.2,300.1 634.7,304.6 643.6,302.8 650.7,297.4 659.6,285.9 668.4,274.3 668.0,268.1" fill="none" stroke="#222" stroke-width="0.8" stroke-opacity="0.85"/>
<polyline points="688.0,268.1 690.0,285.0 700.0,300.0" fill="none" stroke="#222" stroke-width="0.8" stroke-opacity="0.85"/>
</g>
<polygon points="90.0,122.2 100.6,125.6 113.9,127.8 109.0,137.0 111.1,143.9 118.3,141.1 120.0,128.3 117.8,124.4 117.2,116.7 115.0,116.1 113.9,112.2 114.2,111.7 464.4,111.7 466.7,115.0 476.7,117.2 492.2,122.8 503.3,127.2 512.2,126.1 527.8,128.3 514.4,136.1 505.6,142.8 498.9,148.3 496.7,150.6 505.6,148.3 514.4,152.8 521.1,151.7 532.2,145.0 545.6,139.4 551.1,138.3 545.6,147.2 544.4,146.7 548.9,148.3 556.7,151.1 566.7,153.3 573.3,151.7 585.6,150.0 586.7,154.4 594.4,156.7 598.9,162.2 586.4,163.7 574.0,164.4 567.0,164.4 564.7,167.5 558.4,175.3 552.2,181.5 548.3,186.2 551.4,185.4 556.9,178.4 560.8,174.5 558.4,181.5 554.5,190.9 553.0,200.0 551.1,202.2 550.6,212.2 552.2,226.7 556.7,234.4 561.1,234.4 565.6,231.1 570.0,220.0 569.4,206.7 567.8,195.6 570.0,186.7 574.4,180.0 578.9,176.7 580.0,181.1 581.7,175.6 584.4,172.2 586.7,167.8 592.2,166.7 598.9,168.9 605.6,173.3 607.2,180.0 606.7,187.8 602.2,195.6 600.0,201.1 602.2,202.2 606.7,196.7 612.2,195.6 615.6,200.0 616.7,206.7 616.7,217.8 612.2,224.4 608.9,228.9 606.7,234.4 612.2,237.8 620.0,236.7 625.6,235.0 640.0,228.3 652.2,223.9 661.7,218.3 660.8,209.2 673.3,206.7 695.0,204.2 695.0,195.0 703.3,186.7 711.7,179.2 756.7,178.3 763.3,173.3 766.7,170.0 775.6,153.3 784.4,137.8 797.8,140.0 803.3,153.3 804.4,168.9 811.1,180.0 808.9,184.4 797.8,191.1 790.0,183.3 781.7,195.0 771.7,203.3 765.0,213.3 763.3,220.0 766.7,228.3 773.3,230.0 775.0,235.0 770.0,236.7 756.7,240.0 746.7,243.3 750.0,245.8 738.0,249.0 726.0,252.0 722.3,251.8 720.5,253.0 724.2,257.1 724.2,262.2 721.9,269.6 713.5,280.3 710.7,277.0 706.1,271.9 705.2,266.9 707.0,273.3 710.7,282.6 711.7,288.1 708.9,295.6 705.2,297.4 700.1,310.8 702.4,297.4 697.8,291.9 696.4,286.3 695.0,280.7 697.8,271.9 692.2,276.1 694.1,288.1 686.7,290.0 695.9,299.3 692.2,303.0 695.0,310.4 692.2,313.1 699.6,316.9 700.6,320.0 705.2,334.0 702.1,333.2 701.3,337.9 696.7,341.8 692.0,339.4 690.4,343.3 694.3,348.0 692.0,351.1 684.2,352.7 678.8,357.3 675.7,363.6 667.1,366.7 661.7,371.3 657.0,380.0 655.6,380.0 646.7,385.3 636.9,390.7 634.2,397.8 631.5,406.0 630.7,415.6 632.4,433.3 638.7,451.0 644.0,468.9 646.5,478.0 648.4,486.7 647.8,493.3 646.1,503.3 643.9,510.0 641.1,512.2 635.6,513.3 634.4,511.1 632.2,503.3 627.8,497.8 623.6,486.7 617.8,477.8 614.7,468.9 614.7,464.7 615.5,455.0 611.1,447.6 606.0,441.0 598.7,435.1 591.6,431.6 582.7,435.1 576.0,427.3 572.0,424.4 560.0,423.3 555.6,425.1 549.3,426.9 548.4,423.3 542.2,424.2 533.3,425.1 528.9,426.9 522.7,425.1 519.1,426.9 520.9,429.6 526.2,428.7 528.0,430.4 532.4,429.1 533.3,431.3 528.9,438.4 535.1,445.6 533.3,448.2 530.7,445.6 523.6,441.1 521.8,445.6 517.3,444.2 511.1,444.7 505.8,439.3 498.7,435.8 496.0,437.6 488.9,436.7 480.0,434.9 473.4,433.7 462.9,437.9 459.1,445.3 451.1,451.6 441.3,455.1 436.9,460.4 433.3,466.7 429.8,469.3 430.7,475.6 428.9,482.7 429.3,488.9 434.2,498.7 431.6,499.6 420.0,497.8 410.2,492.4 405.8,480.0 404.0,472.9 396.0,460.4 390.7,447.1 384.4,440.0 375.0,434.7 366.6,436.8 358.1,447.3 343.3,436.8 337.0,419.9 328.6,409.3 316.9,398.8 294.8,399.8 294.8,408.3 257.5,407.5 213.3,389.1 213.3,386.2 184.4,387.7 180.1,376.1 175.8,370.3 170.0,366.7 161.7,361.7 151.7,356.7 143.3,355.0 140.0,346.7 138.3,338.3 133.3,331.7 126.7,323.3 125.0,313.3 120.8,306.7 118.2,310.0 117.3,297.3 111.1,293.8 105.8,282.2 101.3,269.8 98.7,263.6 94.2,255.6 96.9,237.8 95.1,228.9 93.3,220.0 91.7,215.0 96.7,205.0 97.5,185.0 98.3,171.7 100.0,158.3 97.5,151.7 96.1,143.9 93.3,133.9 90.6,128.3" fill="none" stroke="#111" stroke-width="1.1" stroke-linejoin="round"/>
<path d="M111.6 118.2 l1.6 -1 l0.6 1.6 l-1.4 0.8 z M114.5 123 l1.5 4 l0.5 5 l-1.2 5 l-2.2 4.5" fill="none" stroke="#111" stroke-width="1"/>
<line x1="624" y1="431.6" x2="654" y2="431.6" stroke="#111" stroke-width="1.5"/>
<line x1="641" y1="503.9" x2="671.7" y2="503.9" stroke="#111" stroke-width="1.5"/>
<text x="112.2" y="194" text-anchor="middle" font-family="Liberation Sans" font-size="22" fill="#111">4</text>
<text x="304.7" y="175.7" text-anchor="middle" font-family="Liberation Sans" font-size="22" fill="#111">6</text>
<text x="191.5" y="271" text-anchor="middle" font-family="Liberation Sans" font-size="22" fill="#111">5</text>
<text x="473.9" y="145.6" text-anchor="middle" font-family="Liberation Sans" font-size="22" fill="#111">7</text>
<text x="608.3" y="261.1" text-anchor="middle" font-family="Liberation Sans" font-size="22" fill="#111">5</text>
<text x="510.6" y="311.1" text-anchor="middle" font-family="Liberation Sans" font-size="22" fill="#111">4</text>
<text x="182.7" y="357.3" text-anchor="middle" font-family="Liberation Sans" font-size="22" fill="#111">3</text>
<text x="239.7" y="386.7" text-anchor="middle" font-family="Liberation Sans" font-size="22" fill="#111">2</text>
<text x="562.5" y="382.5" text-anchor="middle" font-family="Liberation Sans" font-size="22" fill="#111">3</text>
<text x="461.2" y="430.8" text-anchor="middle" font-family="Liberation Sans" font-size="22" fill="#111">2</text>
<text x="739.2" y="200.8" text-anchor="middle" font-family="Liberation Sans" font-size="22" fill="#111">6</text>
<text x="669" y="439.3" text-anchor="middle" font-family="Liberation Sans" font-size="22" fill="#111">2</text>
<text x="685.5" y="511.7" text-anchor="middle" font-family="Liberation Sans" font-size="22" fill="#111">1</text></svg>
<div class="t" style="left:105.5px;top:434.5px;font-size:13.7px;line-height:14.7px;color:#1a1a1a">All of Alaska in Zone 7 except for<br>select boroughs in the interior near<br>and north of the Arctic Circle:<br><br>Bethel<br>Dellingham<br>Fairbanks&nbsp; N. Star<br>Nome</div>
<div class="t" style="left:232.5px;top:493.2px;font-size:13.7px;line-height:14.7px;color:#1a1a1a">Northwest Artic<br>Southeast Fairbanks<br>Wade Hampton<br>Yukon-Koyukuk</div>
<div class="t" style="left:489.5px;top:462.3px;font-size:13.7px;line-height:14.67px;color:#1a1a1a">Zone 1 also<br>includes Hawaii,<br>Guam, Puerto<br>Rico, and the<br>Virgin Islands</div>
<div id="table" class="a" style="left:58px;top:556px;width:746.5px;height:405px;background:#fff"></div>
<div id="cells"><div class="c g" style="left:58px;top:556px;width:81.50px;height:115.00px;"><span class="tx" style="font-size:20.3px;line-height:26px;transform:translateY(0px) scaleX(0.733)">Zone</span></div><div class="c g" style="left:141.5px;top:556px;width:222.20px;height:30.00px;"><span class="tx" style="font-size:20.3px;line-height:26px;transform:translateY(1.5px) scaleX(0.733)">Attic</span></div><div class="c g" style="left:366px;top:556px;width:105.00px;height:30.00px;"><span class="tx" style="font-size:20.3px;line-height:26px;transform:translateY(1.5px) scaleX(0.733)">Floor</span></div><div class="c g" style="left:473.5px;top:556px;width:331.00px;height:30.00px;"><span class="tx" style="font-size:20.3px;line-height:26px;transform:translateY(1.5px) scaleX(0.733)">Wall</span></div><div class="c g" style="left:141.5px;top:589px;width:113.00px;height:82.00px;"><span class="tx" style="font-size:20.3px;line-height:26px;transform:translateY(0px) scaleX(0.733)">Uninsulated<br>Attic</span></div><div class="c g" style="left:257px;top:589px;width:106.70px;height:82.00px;"><span class="tx" style="font-size:20.3px;line-height:26px;transform:translateY(0px) scaleX(0.733)">Existing 3-4<br>Inches of<br>Insulation</span></div><div class="c g" style="left:366px;top:589px;width:105.00px;height:82.00px;"><span class="tx" style="font-size:20.3px;line-height:26px;transform:translateY(0px) scaleX(0.733)">Uninsulated<br>Floor</span></div><div class="c g" style="left:473.5px;top:589px;width:161.70px;height:82.00px;"><span class="tx" style="font-size:20.3px;line-height:26px;transform:translateY(0px) scaleX(0.733)">Uninsulated<br>Wood-Frame Wall</span></div><div class="c g" style="left:638px;top:589px;width:166.50px;height:82.00px;"><span class="tx" style="font-size:20.3px;line-height:26px;transform:translateY(0px) scaleX(0.733)">Insulated<br>Wood-Frame Wall</span></div><div class="c " style="left:58px;top:673.3px;width:81.50px;height:28.70px;background:#b85a88;color:#111;"><span class="tx" style="font-size:20px;line-height:23.1px;transform:translateY(0px) scaleX(0.8)">1</span></div><div class="c " style="left:58px;top:705px;width:81.50px;height:28.30px;background:#ee3124;color:#111;"><span class="tx" style="font-size:20px;line-height:23.1px;transform:translateY(0px) scaleX(0.8)">2</span></div><div class="c " style="left:58px;top:736.3px;width:81.50px;height:28.30px;background:#c87232;color:#111;"><span class="tx" style="font-size:20px;line-height:23.1px;transform:translateY(0px) scaleX(0.8)">3</span></div><div class="c " style="left:58px;top:767.3px;width:81.50px;height:67.20px;background:#f0e81e;color:#111;"><span class="tx" style="font-size:20px;line-height:23.1px;transform:translateY(0px) scaleX(0.8)">4</span></div><div class="c " style="left:58px;top:837.3px;width:81.50px;height:28.30px;background:#58b848;color:#111;"><span class="tx" style="font-size:20px;line-height:23.1px;transform:translateY(0px) scaleX(0.8)">5</span></div><div class="c " style="left:58px;top:868.6px;width:81.50px;height:28.40px;background:#10a0c8;color:#111;"><span class="tx" style="font-size:20px;line-height:23.1px;transform:translateY(0px) scaleX(0.8)">6</span></div><div class="c " style="left:58px;top:900px;width:81.50px;height:28.40px;background:#8c5aa5;color:#111;"><span class="tx" style="font-size:20px;line-height:23.1px;transform:translateY(0px) scaleX(0.8)">7</span></div><div class="c " style="left:58px;top:931.4px;width:81.50px;height:29.60px;background:#b8d3c2;color:#111;"><span class="tx" style="font-size:20px;line-height:23.1px;transform:translateY(0px) scaleX(0.8)">8</span></div><div class="c " style="left:141.5px;top:673.3px;width:113.00px;height:28.70px;"><span class="tx" style="font-size:20.6px;line-height:23.1px;transform:translateY(0px) scaleX(0.81)">R30 to R49</span></div><div class="c " style="left:257px;top:673.3px;width:106.70px;height:28.70px;"><span class="tx" style="font-size:20.6px;line-height:23.1px;transform:translateY(0px) scaleX(0.81)">R25 to R30</span></div><div class="c " style="left:366px;top:673.3px;width:105.00px;height:28.70px;"><span class="tx" style="font-size:20.6px;line-height:23.1px;transform:translateY(0px) scaleX(0.81)">R13</span></div><div class="c " style="left:141.5px;top:705px;width:113.00px;height:28.30px;"><span class="tx" style="font-size:20.6px;line-height:23.1px;transform:translateY(0px) scaleX(0.81)">R30 to R60</span></div><div class="c " style="left:257px;top:705px;width:106.70px;height:28.30px;"><span class="tx" style="font-size:20.6px;line-height:23.1px;transform:translateY(0px) scaleX(0.81)">R25 to R38</span></div><div class="c " style="left:366px;top:705px;width:105.00px;height:28.30px;"><span class="tx" style="font-size:20.6px;line-height:23.1px;transform:translateY(0px) scaleX(0.81)">R13 to R19</span></div><div class="c " style="left:141.5px;top:736.3px;width:113.00px;height:28.30px;"><span class="tx" style="font-size:20.6px;line-height:23.1px;transform:translateY(0px) scaleX(0.81)">R30 to R60</span></div><div class="c " style="left:257px;top:736.3px;width:106.70px;height:28.30px;"><span class="tx" style="font-size:20.6px;line-height:23.1px;transform:translateY(0px) scaleX(0.81)">R25 to R38</span></div><div class="c " style="left:366px;top:736.3px;width:105.00px;height:28.30px;"><span class="tx" style="font-size:20.6px;line-height:23.1px;transform:translateY(0px) scaleX(0.81)">R19 to R25</span></div><div class="c " style="left:141.5px;top:767.3px;width:113.00px;height:67.20px;"><span class="tx" style="font-size:20.6px;line-height:23.1px;transform:translateY(0px) scaleX(0.81)">R38 to R60</span></div><div class="c " style="left:257px;top:767.3px;width:106.70px;height:67.20px;"><span class="tx" style="font-size:20.6px;line-height:23.1px;transform:translateY(0px) scaleX(0.81)">R38</span></div><div class="c " style="left:366px;top:767.3px;width:105.00px;height:67.20px;"><span class="tx" style="font-size:20.6px;line-height:23.1px;transform:translateY(0px) scaleX(0.81)">R25 to R30</span></div><div class="c " style="left:141.5px;top:837.3px;width:113.00px;height:123.70px;"><span class="tx" style="font-size:20.6px;line-height:23.1px;transform:translateY(0px) scaleX(0.81)">R49 to R60</span></div><div class="c " style="left:257px;top:837.3px;width:106.70px;height:123.70px;"><span class="tx" style="font-size:20.6px;line-height:23.1px;transform:translateY(0px) scaleX(0.81)">R38 to R49</span></div><div class="c " style="left:366px;top:837.3px;width:105.00px;height:123.70px;"><span class="tx" style="font-size:20.6px;line-height:23.1px;transform:translateY(0px) scaleX(0.81)">R25 to R30</span></div><div class="c " style="left:473.5px;top:673.3px;width:161.70px;height:60.00px;"><span class="tx" style="font-size:20.6px;line-height:23.1px;transform:translateY(-1.5px) scaleX(0.81)">*</span></div><div class="c " style="left:473.5px;top:736.3px;width:161.70px;height:98.20px;"><span class="tx" style="font-size:20.6px;line-height:23.1px;transform:translateY(0px) scaleX(0.81)">*&nbsp; and add R5<br>insulative wall<br>sheathing beneath<br>the new siding</span></div><div class="c " style="left:473.5px;top:837.3px;width:161.70px;height:123.70px;"><span class="tx" style="font-size:20.6px;line-height:23.1px;transform:translateY(0px) scaleX(0.81)">*&nbsp; and add R5 to<br>R6 insulative wall<br>sheathing beneath<br>the new siding</span></div><div class="c " style="left:638px;top:673.3px;width:166.50px;height:91.30px;"><span class="tx" style="font-size:20.6px;line-height:23.1px;transform:translateY(0px) scaleX(0.81)">N/A</span></div><div class="c " style="left:638px;top:767.3px;width:166.50px;height:193.70px;"><span class="tx" style="font-size:20.6px;line-height:23.1px;transform:translateY(0px) scaleX(0.81)">Add R5 insulated<br>sheathing before<br>installing the new<br>siding</span></div></div><!--/cells-->
<div class="c g" style="left:58.3px;top:964.5px;width:746.7px;height:58px;display:block;text-align:left;font-size:18.6px;line-height:25.7px"><span class="tx" style="font-size:19.2px;line-height:26px;transform-origin:0 0;transform:translateY(2px) scaleX(0.768);padding-left:24px">* Whenever exterior siding is removed from an uninsulated wood-frame wall, drill holes in the sheathing and<br>blow insulation into the empty wall cavity before installing the new siding.</span></div>
</body></html>
